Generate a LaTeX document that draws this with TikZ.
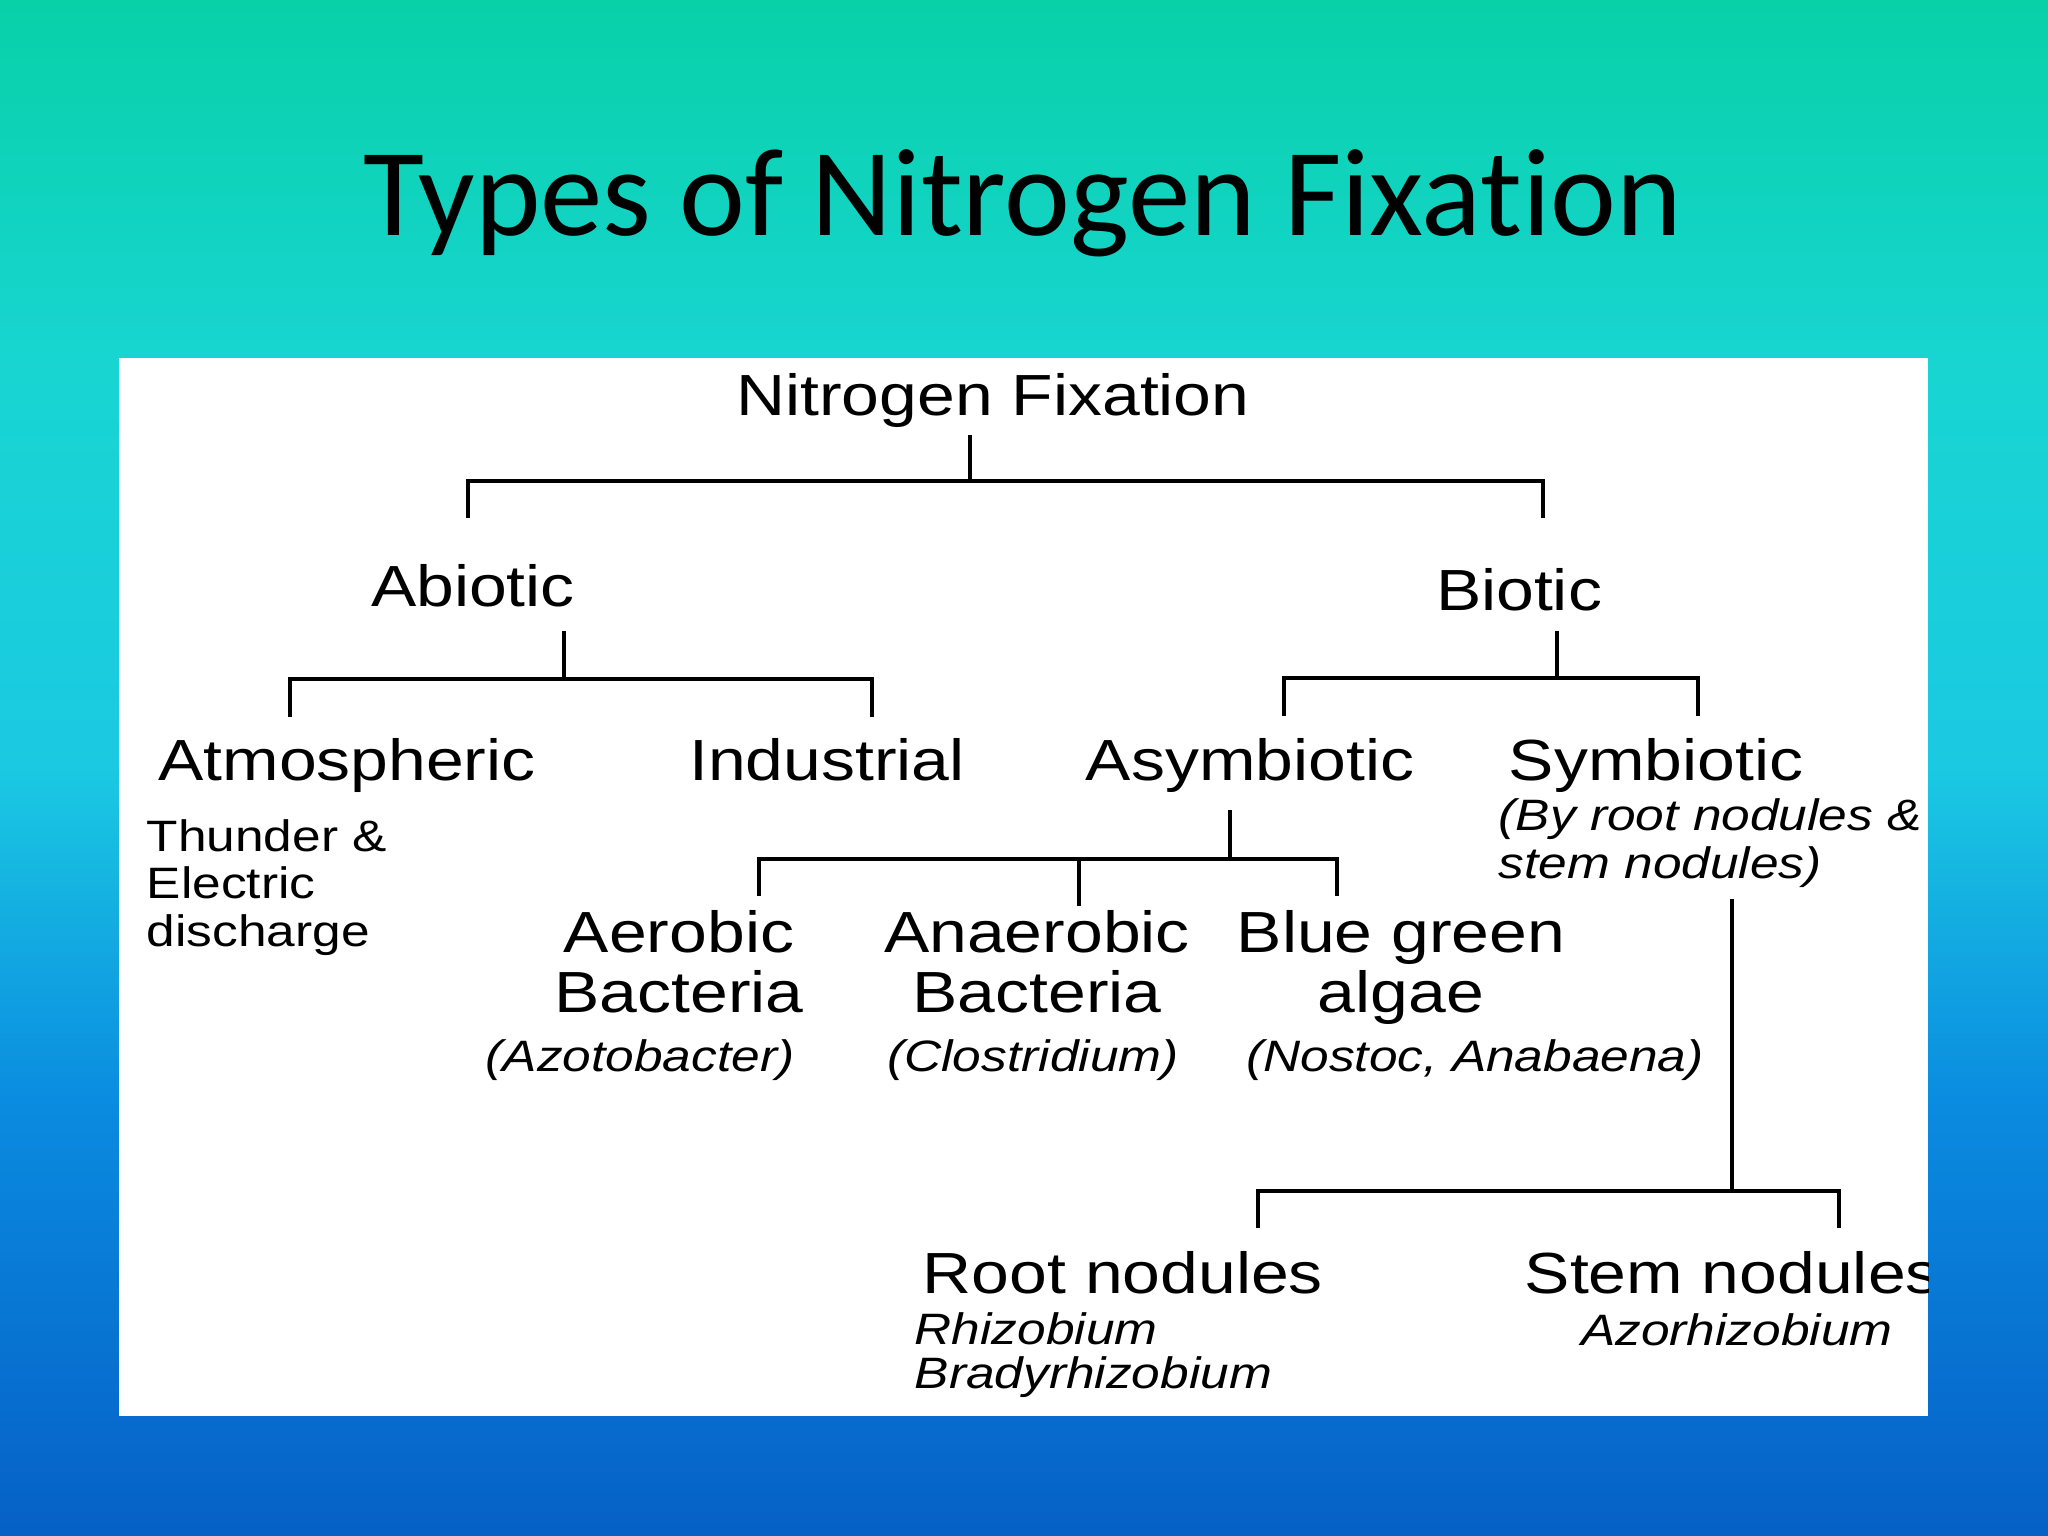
\documentclass[tikz,border=0pt]{standalone}
\usepackage{fontspec}
\newfontfamily\titlefont[Ligatures=NoCommon]{Carlito}
\newfontfamily\diagfont[FakeStretch=1.17]{Liberation Sans}
\definecolor{bgtop}{HTML}{08D1A8}
\definecolor{bgaqua}{HTML}{18D5D2}
\definecolor{bgcyan}{HTML}{1BC9E2}
\definecolor{bgblue}{HTML}{0A8BE0}
\definecolor{bgbot}{HTML}{0660C6}
\pgfdeclareverticalshading{slidebg}{100bp}{color(0bp)=(bgbot); color(25bp)=(bgbot); color(39bp)=(bgblue); color(50bp)=(bgcyan); color(63bp)=(bgaqua); color(75bp)=(bgtop); color(100bp)=(bgtop)}
\tikzset{
  lbl/.style={font=\diagfont\fontsize{16.5}{17}\selectfont, inner sep=0pt, anchor=base, align=center},
  sublbl/.style={font=\diagfont\fontsize{12.5}{13.5}\selectfont, inner sep=0pt, anchor=base},
  species/.style={sublbl, font=\diagfont\itshape\fontsize{12.5}{13.5}\selectfont},
  tree/.style={line width=1.4pt}
}
\begin{document}
\begin{tikzpicture}[x=0.01cm,y=-0.01cm]
\useasboundingbox (0,0) rectangle (2048,1536);
\shade[shading=slidebg] (0,0) rectangle (2048,1536);
\node[font=\titlefont\fontsize{35.5}{40}\selectfont, anchor=base, inner sep=0pt] (title) at (1023,235) {Types of Nitrogen Fixation};

\fill[white] (119,358) rectangle (1928,1416);
\begin{scope}
\clip (119,358) rectangle (1928,1416);

\node[lbl] (nf) at (993,415) {Nitrogen Fixation};
\node[lbl] (abiotic) at (473,606) {Abiotic};
\node[lbl] (biotic) at (1519,610) {Biotic};
\node[lbl] (atmos) at (347,780) {Atmospheric};
\node[lbl] (indus) at (827,780) {Industrial};
\node[lbl] (asym) at (1250,780) {Asymbiotic};
\node[lbl] (sym) at (1656,780) {Symbiotic};
\node[sublbl, anchor=base west, align=left] (thunder) at (146,946) {Thunder \&\\Electric\\discharge};
\node[species, anchor=base west, align=left] (byroot) at (1498,878) {(By root nodules \&\\stem nodules)};

\node[lbl] (aerobic) at (679,1012) {Aerobic\\Bacteria};
\node[lbl] (anaerobic) at (1037,1012) {Anaerobic\\Bacteria};
\node[lbl] (bluegreen) at (1401,1012) {Blue green\\algae};
\foreach \x/\n/\t in {640/azoto/(Azotobacter), 1033/clostr/(Clostridium), 1475/nostoc/{(Nostoc, Anabaena)}}
	\node[species] (\n) at (\x,1071) {\t};

\node[lbl] (root) at (1123,1293) {Root nodules};
\node[lbl, anchor=base west] (stem) at (1524,1293) {Stem nodules};
\node[species, anchor=base west, align=left, font=\diagfont\itshape\fontsize{12.5}{12.3}\selectfont] (rhizo) at (914,1388) {Rhizobium\\Bradyrhizobium};
\node[species] (azorh) at (1737,1345) {Azorhizobium};

\coordinate (nf-s) at (970,435);
\coordinate (abiotic-n) at (468,518);
\coordinate (biotic-n) at (1543,518);
\draw[tree] (nf-s) -- ++(0,46) coordinate (nf-j);
\draw[tree] (abiotic-n) |- (nf-j) -| (biotic-n);

\coordinate (abiotic-s) at (564,631);
\coordinate (atmos-n) at (290,717);
\coordinate (indus-n) at (872,717);
\draw[tree] (abiotic-s) -- ++(0,48) coordinate (abiotic-j);
\draw[tree] (atmos-n) |- (abiotic-j) -| (indus-n);

\coordinate (biotic-s) at (1557,631);
\coordinate (asym-n) at (1284,716);
\coordinate (sym-n) at (1698,716);
\draw[tree] (biotic-s) -- ++(0,47) coordinate (biotic-j);
\draw[tree] (asym-n) |- (biotic-j) -| (sym-n);

\coordinate (asym-s) at (1230,810);
\coordinate (aerobic-n) at (759,896);
\coordinate (anaerobic-n) at (1079,906);
\coordinate (bluegreen-n) at (1337,896);
\draw[tree] (asym-s) -- ++(0,49) coordinate (asym-j);
\draw[tree] (aerobic-n) |- (asym-j) -| (bluegreen-n);
\draw[tree] (anaerobic-n) -- (anaerobic-n |- asym-j);

\coordinate (sym-s) at (1732,899);
\coordinate (root-n) at (1258,1228);
\coordinate (stem-n) at (1839,1228);
\draw[tree] (sym-s) -- ++(0,292) coordinate (sym-j);
\draw[tree] (root-n) |- (sym-j) -| (stem-n);
\end{scope}
\end{tikzpicture}
\end{document}
